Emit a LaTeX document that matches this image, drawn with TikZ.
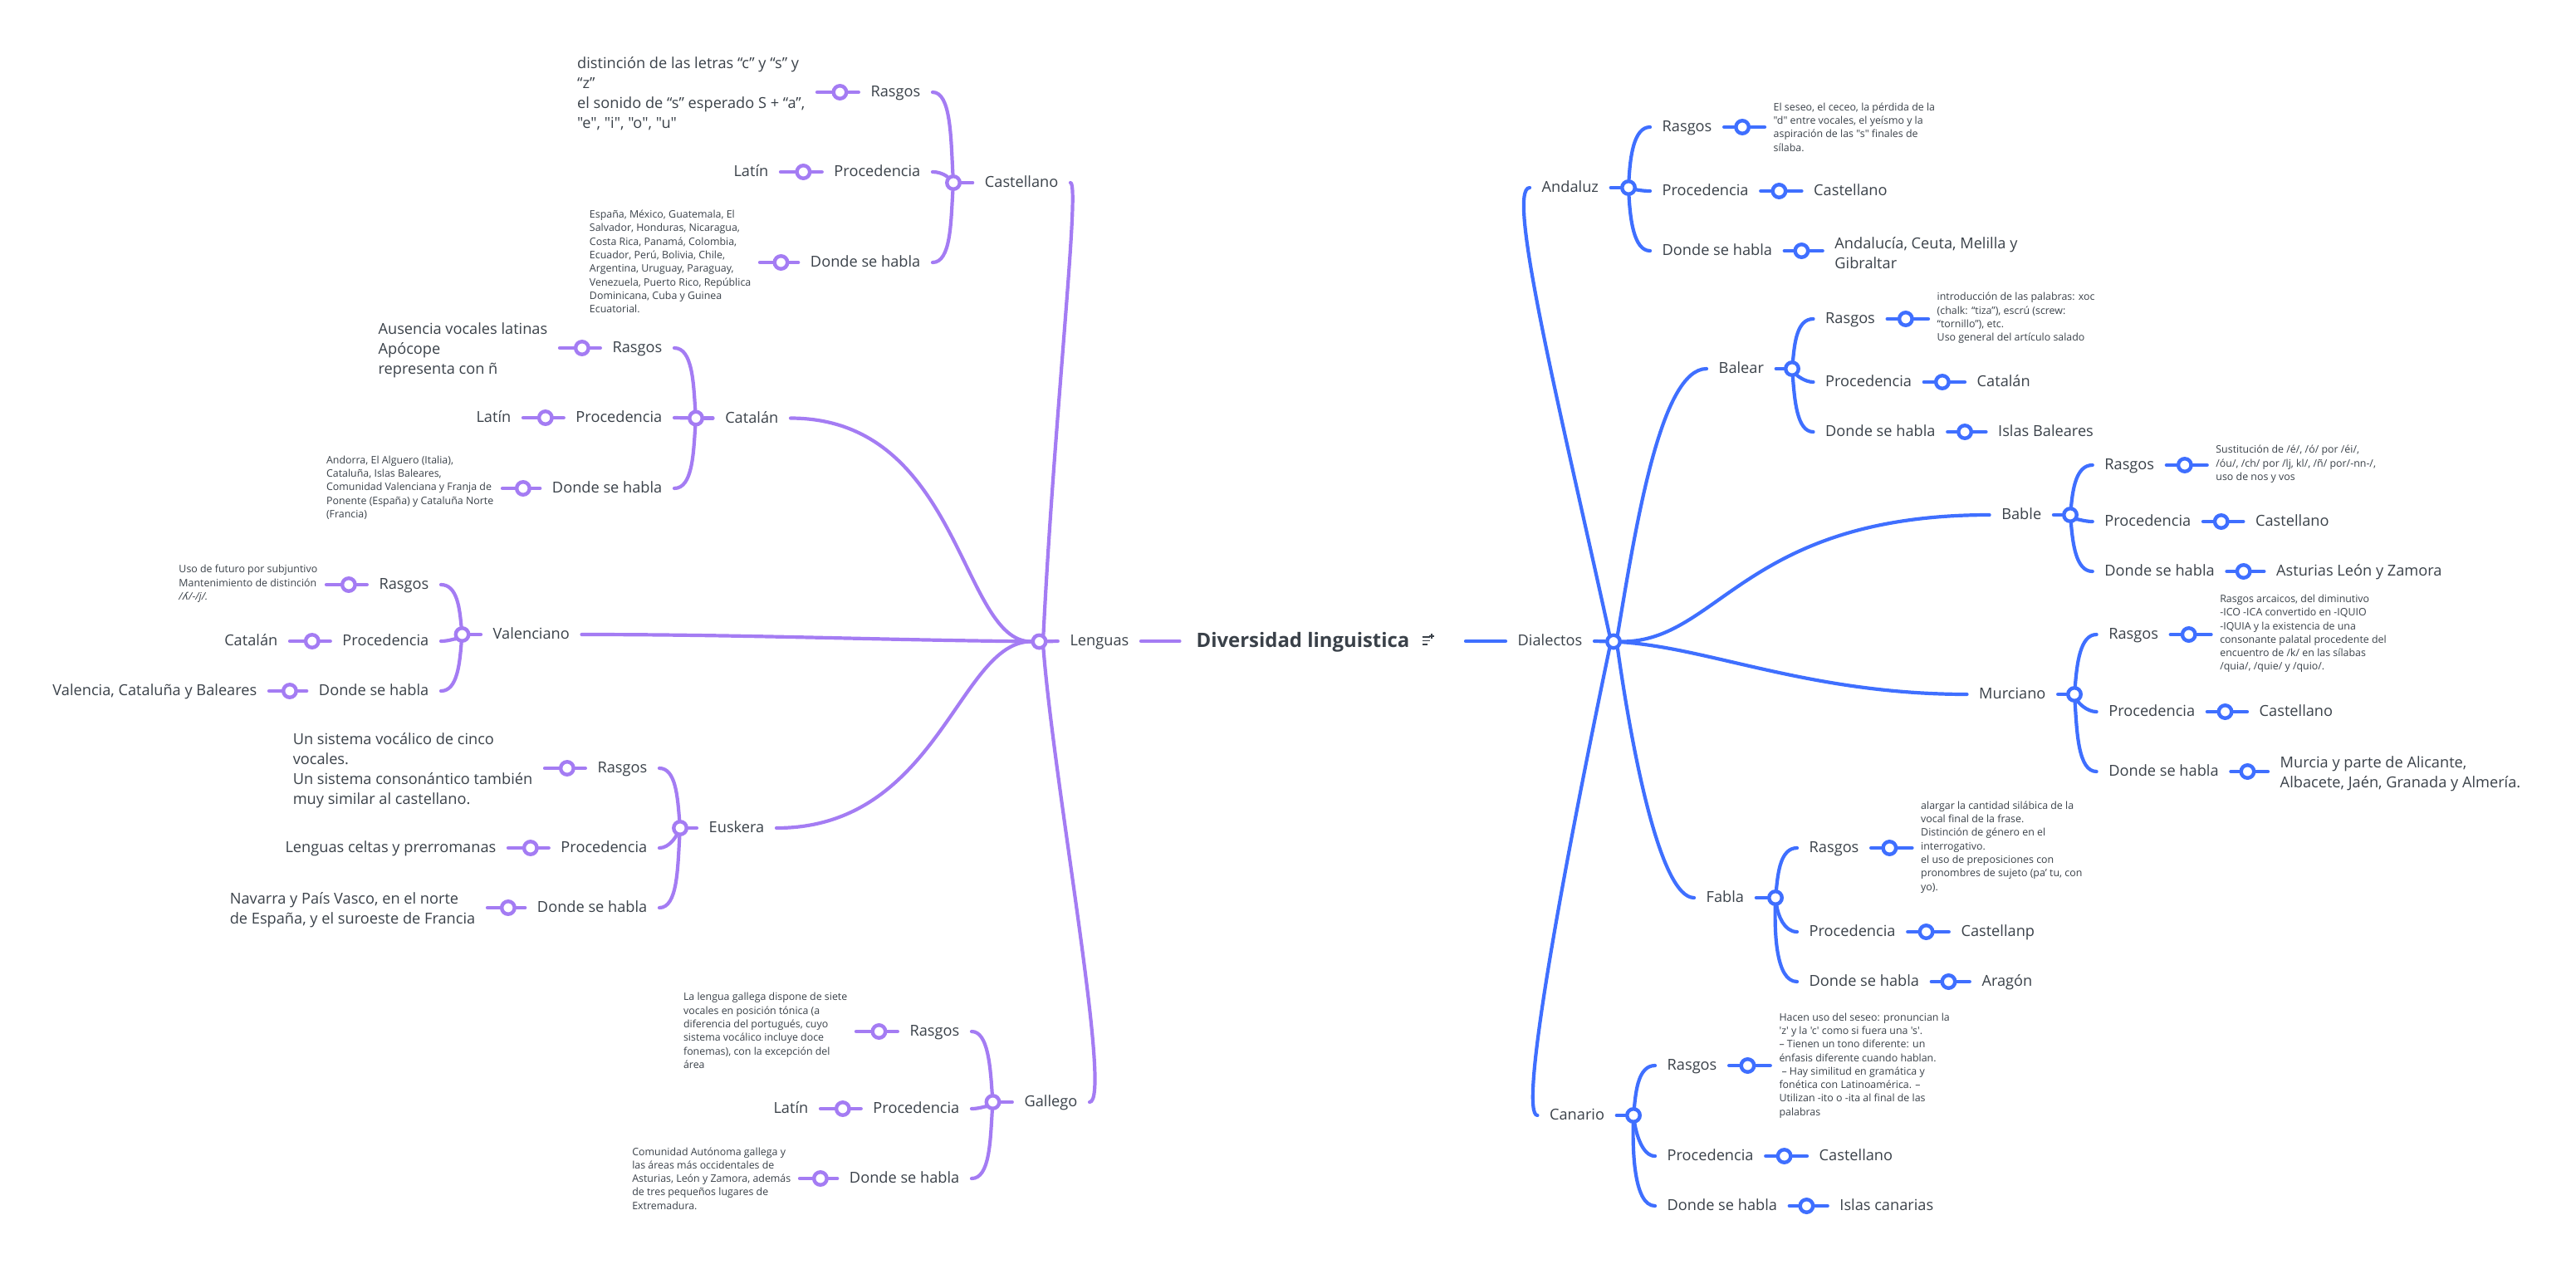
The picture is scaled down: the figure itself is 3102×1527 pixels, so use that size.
\documentclass[tikz,border=0pt]{standalone}
\usepackage{fontspec}
\newfontfamily\mapfont{Open Sans}
\newfontfamily\ipafont{DejaVu Sans}
\definecolor{lilac}{HTML}{A47CF3}
\definecolor{azure}{HTML}{3F6FFF}
\definecolor{ink}{HTML}{3A4149}
\tikzset{
  lab/.style={text=ink,inner xsep=14.5pt,inner ysep=2pt,text height=15pt,text depth=3.5pt,font=\mapfont\fontsize{18.2}{24}\selectfont},
  big/.style={text=ink,inner xsep=14.5pt,inner ysep=2pt,align=left,yshift=-2.5pt,font=\mapfont\fontsize{18.2}{24}\selectfont},
  small/.style={text=ink,inner xsep=10.5pt,inner ysep=2pt,align=left,font=\mapfont\fontsize{12.4}{16.3}\selectfont},
  hubl/.style={circle,draw=lilac,line width=4.4pt,fill=white,inner sep=0pt,minimum size=15.5pt},
  hubb/.style={circle,draw=azure,line width=4.4pt,fill=white,inner sep=0pt,minimum size=15.5pt},
  knotl/.style={hubl,pos=.45},
  knotb/.style={hubb,pos=.45},
  linel/.style={draw=lilac,line width=4.2pt,line cap=round},
  lineb/.style={draw=azure,line width=4.2pt,line cap=round}
}
\begin{document}
\begin{tikzpicture}[x=1pt,y=-1pt]
    \useasboundingbox (0,0) rectangle (3102,1527);

    % Center of the map
    \node[lab,inner xsep=20pt,text height=19pt,text depth=5pt,font=\mapfont\bfseries\fontsize{23.9}{28}\selectfont] (title) at (1569,772) {Diversidad linguistica};
    \coordinate (titleEnd) at (1765,772);
    \draw[ink,line width=1.6pt] (1712.5,767) -- (1721.5,767) (1712.5,771.5) -- (1721.5,771.5) (1712.5,776) -- (1719,776) (1721,766) -- (1726.5,766) (1723.7,763) -- (1723.7,769);

    \node[lab,anchor=east] (leng) at (1374,772) {Lenguas};
    \node[hubl] (lengH) at (1251.5,772.5) {};
    \node[lab,anchor=west] (dial) at (1813,772) {Dialectos};
    \node[hubb] (dialH) at (1943,772.5) {};
    \draw[linel] (title.west) -- (leng.east);
    \draw[linel] (leng.west) -- (lengH);
    \draw[lineb] (titleEnd) -- (dial.west);
    \draw[lineb] (dial.east) -- (dialH);

    % Castellano
    \node[lab,anchor=east] (cast) at (1289,220) {Castellano};
    \node[hubl] (castH) at (1148,220) {};
    \node[lab,anchor=east] (castR) at (1123,111) {Rasgos};
    \node[lab,anchor=east] (castP) at (1123,207) {Procedencia};
    \node[lab,anchor=east] (castD) at (1123,316) {Donde se habla};
    \node[big,anchor=east] (castRt) at (984,110) {distinción de las letras “c” y “s” y\\“z”\\el sonido de “s” esperado S + “a”,\\"e", "i", "o", "u"};
    \node[lab,anchor=east] (castPt) at (940,207) {Latín};
    \node[small,anchor=east] (castDt) at (915,315) {España, México, Guatemala, El\\Salvador, Honduras, Nicaragua,\\Costa Rica, Panamá, Colombia,\\Ecuador, Perú, Bolivia, Chile,\\Argentina, Uruguay, Paraguay,\\Venezuela, Puerto Rico, República\\Dominicana, Cuba y Guinea\\Ecuatorial.};
    \draw[linel] (cast.west) -- (castH);
    \draw[linel] (castR.east) .. controls +(22,0) and +(-3,-55) .. (castH);
    \draw[linel] (castP.east) .. controls +(12,0) and +(-6,-6) .. (castH);
    \draw[linel] (castD.east) .. controls +(22,0) and +(-3,48) .. (castH);
    \draw[linel] (castR.west) -- node[knotl] (castRc) {} (castR.west -| castRt.east);
    \draw[linel] (castP.west) -- node[knotl] (castPc) {} (castPt.east);
    \draw[linel] (castD.west) -- node[knotl] (castDc) {} (castD.west -| castDt.east);

    % Catalan
    \node[lab,anchor=east] (cata) at (952,503.5) {Catalán};
    \node[hubl] (cataH) at (838,503.5) {};
    \node[lab,anchor=east] (cataR) at (812,419) {Rasgos};
    \node[lab,anchor=east] (cataP) at (812,503) {Procedencia};
    \node[lab,anchor=east] (cataD) at (812,588) {Donde se habla};
    \node[big,anchor=east] (cataRt) at (674,419) {Ausencia vocales latinas\\Apócope\\representa con ñ};
    \node[lab,anchor=east] (cataPt) at (630,503) {Latín};
    \node[small,anchor=east] (cataDt) at (605,587) {Andorra, El Alguero (Italia),\\Cataluña, Islas Baleares,\\Comunidad Valenciana y Franja de\\Ponente (España) y Cataluña Norte\\(Francia)};
    \draw[linel] (cata.west) -- (cataH);
    \draw[linel] (cataR.east) .. controls +(22,0) and +(-3,-42) .. (cataH);
    \draw[linel] (cataP.east) -- (cataH);
    \draw[linel] (cataD.east) .. controls +(22,0) and +(-3,42) .. (cataH);
    \draw[linel] (cataR.west) -- node[knotl] (cataRc) {} (cataR.west -| cataRt.east);
    \draw[linel] (cataP.west) -- node[knotl] (cataPc) {} (cataPt.east);
    \draw[linel] (cataD.west) -- node[knotl] (cataDc) {} (cataD.west -| cataDt.east);

    % Valenciano
    \node[lab,anchor=east] (vale) at (700.5,764) {Valenciano};
    \node[hubl] (valeH) at (556.5,764) {};
    \node[lab,anchor=east] (valeR) at (531,704) {Rasgos};
    \node[lab,anchor=east] (valeP) at (531,772) {Procedencia};
    \node[lab,anchor=east] (valeD) at (531,832) {Donde se habla};
    \node[small,anchor=east] (valeRt) at (393,703) {Uso de futuro por subjuntivo\\Mantenimiento de distinción\\\textit{/{\ipafont ʎ}/-/j/.}};
    \node[lab,anchor=east] (valePt) at (349,772) {Catalán};
    \node[lab,anchor=east] (valeDt) at (324,832) {Valencia, Cataluña y Baleares};
    \draw[linel] (vale.west) -- (valeH);
    \draw[linel] (valeR.east) .. controls +(20,0) and +(-3,-30) .. (valeH);
    \draw[linel] (valeP.east) .. controls +(10,0) and +(-6,4) .. (valeH);
    \draw[linel] (valeD.east) .. controls +(20,0) and +(-3,34) .. (valeH);
    \draw[linel] (valeR.west) -- node[knotl] (valeRc) {} (valeR.west -| valeRt.east);
    \draw[linel] (valeP.west) -- node[knotl] (valePc) {} (valePt.east);
    \draw[linel] (valeD.west) -- node[knotl] (valeDc) {} (valeDt.east);

    % Euskera
    \node[lab,anchor=east] (eusk) at (935,997) {Euskera};
    \node[hubl] (euskH) at (819,997) {};
    \node[lab,anchor=east] (euskR) at (794,925) {Rasgos};
    \node[lab,anchor=east] (euskP) at (794,1021) {Procedencia};
    \node[lab,anchor=east] (euskD) at (794,1093) {Donde se habla};
    \node[big,anchor=east] (euskRt) at (656,925) {Un sistema vocálico de cinco\\vocales.\\Un sistema consonántico también\\muy similar al castellano.};
    \node[lab,anchor=east] (euskPt) at (612,1021) {Lenguas celtas y prerromanas};
    \node[big,anchor=east] (euskDt) at (587,1093) {Navarra y País Vasco, en el norte\\de España, y el suroeste de Francia};
    \draw[linel] (eusk.west) -- (euskH);
    \draw[linel] (euskR.east) .. controls +(20,0) and +(-3,-36) .. (euskH);
    \draw[linel] (euskP.east) .. controls +(12,0) and +(-5,10) .. (euskH);
    \draw[linel] (euskD.east) .. controls +(22,0) and +(-3,48) .. (euskH);
    \draw[linel] (euskR.west) -- node[knotl] (euskRc) {} (euskR.west -| euskRt.east);
    \draw[linel] (euskP.west) -- node[knotl] (euskPc) {} (euskPt.east);
    \draw[linel] (euskD.west) -- node[knotl] (euskDc) {} (euskD.west -| euskDt.east);

    % Gallego
    \node[lab,anchor=east] (gall) at (1312,1327) {Gallego};
    \node[hubl] (gallH) at (1195.5,1327) {};
    \node[lab,anchor=east] (gallR) at (1170,1242) {Rasgos};
    \node[lab,anchor=east] (gallP) at (1170,1335) {Procedencia};
    \node[lab,anchor=east] (gallD) at (1170,1419) {Donde se habla};
    \node[small,anchor=east] (gallRt) at (1031,1241) {La lengua gallega dispone de siete\\vocales en posición tónica (a\\diferencia del portugués, cuyo\\sistema vocálico incluye doce\\fonemas), con la excepción del\\área};
    \node[lab,anchor=east] (gallPt) at (988,1335) {Latín};
    \node[small,anchor=east] (gallDt) at (963,1419) {Comunidad Autónoma gallega y\\las áreas más occidentales de\\Asturias, León y Zamora, además\\de tres pequeños lugares de\\Extremadura.};
    \draw[linel] (gall.west) -- (gallH);
    \draw[linel] (gallR.east) .. controls +(20,0) and +(-3,-42) .. (gallH);
    \draw[linel] (gallP.east) .. controls +(10,0) and +(-6,4) .. (gallH);
    \draw[linel] (gallD.east) .. controls +(22,0) and +(-3,46) .. (gallH);
    \draw[linel] (gallR.west) -- node[knotl] (gallRc) {} (gallR.west -| gallRt.east);
    \draw[linel] (gallP.west) -- node[knotl] (gallPc) {} (gallPt.east);
    \draw[linel] (gallD.west) -- node[knotl] (gallDc) {} (gallD.west -| gallDt.east);

    % Branches of Lenguas
    \draw[linel] (cast.east) .. controls +(12,0) and +(13,-263) .. (lengH.60);
    \draw[linel] (cata.east) .. controls +(205,0) and +(-95,0) .. (lengH);
    \draw[linel] (vale.east) .. controls +(200,0) and +(-200,-2) .. (lengH);
    \draw[linel] (eusk.east) .. controls +(195,0) and +(-97,0) .. (lengH);
    \draw[linel] (gall.east) .. controls +(28,0) and +(13,167) .. (lengH.-60);

    % Andaluz
    \node[lab,anchor=west] (anda) at (1842,226) {Andaluz};
    \node[hubb] (andaH) at (1961,226) {};
    \node[lab,anchor=west] (andaR) at (1987,153) {Rasgos};
    \node[lab,anchor=west] (andaP) at (1987,230) {Procedencia};
    \node[lab,anchor=west] (andaD) at (1987,302) {Donde se habla};
    \node[small,anchor=west] (andaRt) at (2125,153) {El seseo, el ceceo, la pérdida de la\\"d" entre vocales, el yeísmo y la\\aspiración de las "s" finales de\\sílaba.};
    \node[lab,anchor=west] (andaPt) at (2169.5,230) {Castellano};
    \node[big,anchor=west] (andaDt) at (2194.7,302) {Andalucía, Ceuta, Melilla y\\Gibraltar};
    \draw[lineb] (anda.east) -- (andaH);
    \draw[lineb] (andaR.west) .. controls +(-20,0) and +(2,-36) .. (andaH);
    \draw[lineb] (andaP.west) .. controls +(-10,0) and +(8,2) .. (andaH);
    \draw[lineb] (andaD.west) .. controls +(-20,0) and +(2,36) .. (andaH);
    \draw[lineb] (andaR.east) -- node[knotb] (andaRc) {} (andaR.east -| andaRt.west);
    \draw[lineb] (andaP.east) -- node[knotb] (andaPc) {} (andaPt.west);
    \draw[lineb] (andaD.east) -- node[knotb] (andaDc) {} (andaD.east -| andaDt.west);

    % Balear
    \node[lab,anchor=west] (bale) at (2055,444) {Balear};
    \node[hubb] (baleH) at (2158,444) {};
    \node[lab,anchor=west] (baleR) at (2183.5,384) {Rasgos};
    \node[lab,anchor=west] (baleP) at (2183.5,460) {Procedencia};
    \node[lab,anchor=west] (baleD) at (2183.5,520) {Donde se habla};
    \node[small,anchor=west] (baleRt) at (2322,383) {introducción de las palabras: xoc\\(chalk: “tiza”), escrú (screw:\\“tornillo”), etc.\\Uso general del artículo salado};
    \node[lab,anchor=west] (balePt) at (2366,460) {Catalán};
    \node[lab,anchor=west] (baleDt) at (2391.5,520) {Islas Baleares};
    \draw[lineb] (bale.east) -- (baleH);
    \draw[lineb] (baleR.west) .. controls +(-20,0) and +(3,-30) .. (baleH);
    \draw[lineb] (baleP.west) .. controls +(-10,0) and +(6,8) .. (baleH);
    \draw[lineb] (baleD.west) .. controls +(-20,0) and +(3,36) .. (baleH);
    \draw[lineb] (baleR.east) -- node[knotb] (baleRc) {} (baleR.east -| baleRt.west);
    \draw[lineb] (baleP.east) -- node[knotb] (balePc) {} (balePt.west);
    \draw[lineb] (baleD.east) -- node[knotb] (baleDc) {} (baleDt.west);

    % Bable
    \node[lab,anchor=west] (babl) at (2395.6,620) {Bable};
    \node[hubb] (bablH) at (2493,620) {};
    \node[lab,anchor=west] (bablR) at (2519.7,560) {Rasgos};
    \node[lab,anchor=west] (bablP) at (2519.7,628) {Procedencia};
    \node[lab,anchor=west] (bablD) at (2519.7,688) {Donde se habla};
    \node[small,anchor=west] (bablRt) at (2657.7,559) {Sustitución de /é/, /ó/ por /éi/,\\/óu/, /ch/ por /lj, kl/, /ñ/ por/-nn-/,\\uso de nos y vos};
    \node[lab,anchor=west] (bablPt) at (2701.4,628) {Castellano};
    \node[lab,anchor=west] (bablDt) at (2726.4,688) {Asturias León y Zamora};
    \draw[lineb] (babl.east) -- (bablH);
    \draw[lineb] (bablR.west) .. controls +(-20,0) and +(3,-30) .. (bablH);
    \draw[lineb] (bablP.west) .. controls +(-10,0) and +(6,4) .. (bablH);
    \draw[lineb] (bablD.west) .. controls +(-20,0) and +(3,34) .. (bablH);
    \draw[lineb] (bablR.east) -- node[knotb] (bablRc) {} (bablR.east -| bablRt.west);
    \draw[lineb] (bablP.east) -- node[knotb] (bablPc) {} (bablPt.west);
    \draw[lineb] (bablD.east) -- node[knotb] (bablDc) {} (bablDt.west);

    % Murciano
    \node[lab,anchor=west] (murc) at (2368.5,836) {Murciano};
    \node[hubb] (murcH) at (2498,836) {};
    \node[lab,anchor=west] (murcR) at (2524.6,764) {Rasgos};
    \node[lab,anchor=west] (murcP) at (2524.6,857) {Procedencia};
    \node[lab,anchor=west] (murcD) at (2524.6,929) {Donde se habla};
    \node[small,anchor=west] (murcRt) at (2662.6,763) {Rasgos arcaicos, del diminutivo\\-ICO -ICA convertido en -IQUIO\\-IQUIA y la existencia de una\\consonante palatal procedente del\\encuentro de /k/ en las sílabas\\/quia/, /quie/ y /quio/.};
    \node[lab,anchor=west] (murcPt) at (2706,857) {Castellano};
    \node[big,anchor=west] (murcDt) at (2731,929) {Murcia y parte de Alicante,\\Albacete, Jaén, Granada y Almería.};
    \draw[lineb] (murc.east) -- (murcH);
    \draw[lineb] (murcR.west) .. controls +(-20,0) and +(3,-36) .. (murcH);
    \draw[lineb] (murcP.west) .. controls +(-12,0) and +(5,10) .. (murcH);
    \draw[lineb] (murcD.west) .. controls +(-22,0) and +(3,46) .. (murcH);
    \draw[lineb] (murcR.east) -- node[knotb] (murcRc) {} (murcR.east -| murcRt.west);
    \draw[lineb] (murcP.east) -- node[knotb] (murcPc) {} (murcPt.west);
    \draw[lineb] (murcD.east) -- node[knotb] (murcDc) {} (murcD.east -| murcDt.west);

    % Fabla
    \node[lab,anchor=west] (fabl) at (2040,1081) {Fabla};
    \node[hubb] (fablH) at (2138,1081) {};
    \node[lab,anchor=west] (fablR) at (2164,1021) {Rasgos};
    \node[lab,anchor=west] (fablP) at (2164,1122) {Procedencia};
    \node[lab,anchor=west] (fablD) at (2164,1182) {Donde se habla};
    \node[small,anchor=west] (fablRt) at (2302.5,1020) {alargar la cantidad silábica de la\\vocal final de la frase.\\Distinción de género en el\\interrogativo.\\el uso de preposiciones con\\pronombres de sujeto (pa’ tu, con\\yo).};
    \node[lab,anchor=west] (fablPt) at (2346.8,1122) {Castellanp};
    \node[lab,anchor=west] (fablDt) at (2371.8,1182) {Aragón};
    \draw[lineb] (fabl.east) -- (fablH);
    \draw[lineb] (fablR.west) .. controls +(-20,0) and +(3,-30) .. (fablH);
    \draw[lineb] (fablP.west) .. controls +(-16,0) and +(3,20) .. (fablH);
    \draw[lineb] (fablD.west) .. controls +(-26,0) and +(-1,40) .. (fablH);
    \draw[lineb] (fablR.east) -- node[knotb] (fablRc) {} (fablR.east -| fablRt.west);
    \draw[lineb] (fablP.east) -- node[knotb] (fablPc) {} (fablPt.west);
    \draw[lineb] (fablD.east) -- node[knotb] (fablDc) {} (fablDt.west);

    % Canario
    \node[lab,anchor=west] (cana) at (1851.4,1343) {Canario};
    \node[hubb] (canaH) at (1967,1343) {};
    \node[lab,anchor=west] (canaR) at (1993,1283) {Rasgos};
    \node[lab,anchor=west] (canaP) at (1993,1392) {Procedencia};
    \node[lab,anchor=west] (canaD) at (1993,1452) {Donde se habla};
    \node[small,anchor=west] (canaRt) at (2131.8,1283) {Hacen uso del seseo: pronuncian la\\'z' y la 'c' como si fuera una 's'.\\– Tienen un tono diferente: un\\énfasis diferente cuando hablan.\\\hspace*{3pt}– Hay similitud en gramática y\\fonética con Latinoamérica. –\\Utilizan -ito o -ita al final de las\\palabras};
    \node[lab,anchor=west] (canaPt) at (2176,1392) {Castellano};
    \node[lab,anchor=west] (canaDt) at (2200.7,1452) {Islas canarias};
    \draw[lineb] (cana.east) -- (canaH);
    \draw[lineb] (canaR.west) .. controls +(-20,0) and +(3,-30) .. (canaH);
    \draw[lineb] (canaP.west) .. controls +(-16,0) and +(3,20) .. (canaH);
    \draw[lineb] (canaD.west) .. controls +(-26,0) and +(-1,40) .. (canaH);
    \draw[lineb] (canaR.east) -- node[knotb] (canaRc) {} (canaR.east -| canaRt.west);
    \draw[lineb] (canaP.east) -- node[knotb] (canaPc) {} (canaPt.west);
    \draw[lineb] (canaD.east) -- node[knotb] (canaDc) {} (canaDt.west);

    % Branches of Dialectos
    \draw[lineb] (anda.west) .. controls +(-30,0) and +(-55,-252) .. (dialH.120);
    \draw[lineb] (bale.west) .. controls +(-55,0) and +(22,-132) .. (dialH.60);
    \draw[lineb] (babl.west) .. controls +(-295,0) and +(127,0) .. (dialH);
    \draw[lineb] (murc.west) .. controls +(-188,0) and +(117,8) .. (dialH);
    \draw[lineb] (fabl.west) .. controls +(-40,0) and +(18,128) .. (dialH.-60);
    \draw[lineb] (cana.west) .. controls +(-23,0) and +(-58,278) .. (dialH.-120);

\end{tikzpicture}
\end{document}
